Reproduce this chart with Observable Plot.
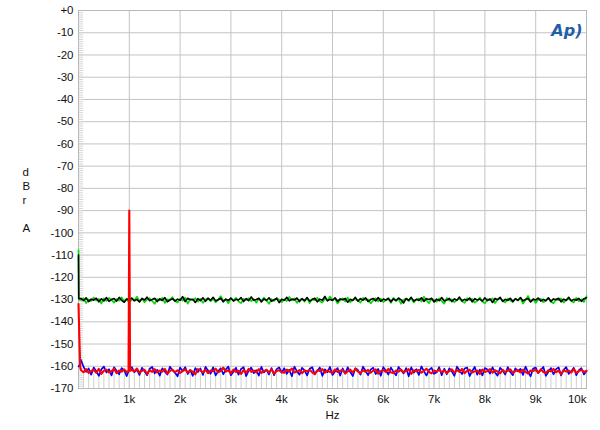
<!DOCTYPE html>
<html>
<head>
<meta charset="utf-8">
<script src="https://cdn.jsdelivr.net/npm/d3@7"></script>
<script src="https://cdn.jsdelivr.net/npm/@observablehq/plot@0.6"></script>
<style>
  body { margin: 0; background: #fff; }
</style>
</head>
<body>
<div id="chart"></div>
<script>
// Frequency bins (Hz) for the noise-floor traces, 50 Hz apart
const binHz = d3.range(1, 201).map(i => i * 50);

const blackBase = [
-129.6,-130.5,-129.2,-130.9,-129.8,-130.3,-129.4,-131.0,-129.7,-130.6,
-129.1,-130.8,-130.0,-129.5,-130.7,-129.0,-130.4,-131.2,-129.8,-130.1,
-129.3,-130.6,-129.9,-131.1,-129.5,-130.2,-128.9,-130.5,-130.0,-129.4,
-130.9,-129.7,-130.4,-129.1,-131.0,-130.2,-129.6,-130.7,-129.8,-130.3,
-128.7,-130.9,-129.4,-130.1,-129.9,-131.3,-129.6,-130.5,-129.2,-130.8,
-129.5,-130.3,-129.0,-130.6,-130.1,-129.4,-131.0,-129.8,-130.4,-129.3,
-130.7,-129.9,-130.2,-129.1,-130.9,-129.6,-130.5,-128.8,-130.3,-130.0,
-129.4,-131.1,-129.7,-130.4,-129.2,-130.8,-130.1,-129.5,-131.4,-129.9,
-130.3,-129.0,-130.6,-129.8,-130.2,-129.3,-130.9,-129.6,-130.5,-129.1,
-130.7,-130.0,-129.4,-131.0,-129.8,-130.3,-128.6,-130.6,-129.9,-130.4,
-129.2,-130.8,-129.7,-130.1,-129.5,-131.2,-129.9,-130.4,-129.0,-130.7,
-129.6,-130.3,-129.2,-130.9,-130.0,-129.5,-130.6,-129.1,-130.8,-129.8,
-130.2,-129.4,-131.0,-129.7,-130.5,-129.3,-130.1,-131.5,-129.6,-130.3,
-129.0,-130.7,-129.9,-130.4,-129.2,-130.8,-129.6,-130.0,-129.4,-131.1,
-129.8,-130.5,-129.1,-130.6,-130.2,-129.5,-130.9,-129.7,-130.3,-128.9,
-130.6,-129.9,-130.4,-129.3,-131.0,-129.6,-130.2,-129.8,-130.7,-129.2,
-130.5,-129.7,-131.3,-129.5,-130.1,-129.0,-130.8,-129.9,-130.4,-129.4,
-130.9,-129.6,-130.3,-129.1,-130.6,-130.0,-129.5,-131.1,-129.8,-130.2,
-129.3,-130.7,-129.9,-130.5,-129.2,-130.9,-129.7,-130.1,-129.4,-131.0,
-129.8,-130.4,-129.0,-130.6,-129.9,-130.3,-129.5,-130.8,-129.6,-129.2
];
const greenBase = [
-130.2,-129.4,-131.6,-129.9,-130.7,-129.1,-130.4,-129.7,-131.8,-129.5,
-130.6,-129.3,-130.1,-131.4,-129.8,-130.5,-129.0,-130.9,-129.6,-131.7,
-129.8,-130.3,-128.7,-130.8,-129.5,-131.2,-130.0,-129.4,-130.6,-131.9,
-129.7,-130.4,-129.2,-131.5,-129.9,-130.1,-128.9,-130.7,-131.3,-129.6,
-130.5,-129.1,-131.8,-129.8,-130.3,-129.4,-130.9,-129.7,-131.5,-130.0,
-129.3,-130.8,-129.6,-131.2,-130.1,-128.5,-130.6,-129.9,-131.7,-129.5,
-130.4,-129.2,-130.9,-131.6,-129.7,-130.2,-129.4,-130.7,-129.8,-131.4,
-129.6,-130.5,-129.1,-130.3,-131.9,-129.8,-130.6,-129.3,-130.1,-131.2,
-129.9,-130.7,-128.8,-130.4,-129.5,-131.5,-130.2,-129.7,-130.9,-129.4,
-131.6,-129.8,-130.3,-129.2,-130.8,-131.3,-129.6,-130.5,-128.6,-130.1,
-129.7,-131.8,-130.4,-129.5,-130.9,-129.1,-131.2,-130.0,-129.8,-130.6,
-131.4,-129.3,-130.2,-129.9,-131.7,-130.5,-129.4,-130.8,-129.6,-131.1,
-130.3,-129.7,-131.5,-129.2,-130.6,-129.8,-131.9,-130.1,-129.5,-130.7,
-129.4,-131.3,-130.0,-129.6,-130.9,-128.7,-130.4,-131.6,-129.8,-130.2,
-131.0,-129.5,-130.7,-131.8,-129.3,-130.5,-129.9,-131.2,-130.1,-129.6,
-130.8,-131.5,-129.4,-130.2,-129.7,-131.4,-130.6,-129.1,-130.9,-131.7,
-129.8,-130.3,-129.5,-131.6,-130.0,-129.2,-130.7,-131.3,-129.6,-130.4,
-131.1,-129.7,-130.5,-129.3,-131.8,-130.2,-128.4,-130.8,-129.9,-131.5,
-130.1,-129.6,-131.2,-130.4,-129.4,-130.9,-131.7,-129.8,-130.3,-129.5,
-131.4,-130.0,-129.7,-130.6,-131.3,-129.2,-130.8,-129.9,-131.1,-128.5
];
const redBase = [
-161.8,-162.7,-161.3,-163.0,-162.1,-161.6,-162.9,-161.2,-163.4,-162.0,
-161.5,-162.8,-162.2,-161.1,-163.1,-161.9,-162.4,-161.4,-162.6,-163.3,
-161.7,-162.3,-161.0,-162.9,-162.0,-161.6,-163.5,-161.8,-162.5,-161.3,
-162.8,-161.9,-162.4,-161.2,-163.2,-162.1,-161.5,-162.7,-161.8,-163.0,
-162.2,-161.4,-162.9,-161.7,-162.5,-163.6,-161.3,-162.0,-162.8,-161.6,
-163.1,-161.9,-162.3,-161.1,-162.7,-162.2,-160.6,-162.4,-161.8,-163.2,
-161.5,-162.6,-162.0,-163.4,-161.7,-162.9,-161.2,-162.5,-161.9,-162.8,
-161.3,-163.0,-162.2,-161.6,-162.7,-161.4,-163.3,-162.1,-161.8,-162.6,
-162.9,-161.5,-162.3,-161.0,-162.8,-162.4,-161.7,-163.1,-161.9,-162.2,
-161.6,-162.7,-163.5,-161.8,-162.1,-161.3,-162.9,-161.9,-162.5,-163.0,
-161.4,-162.6,-162.0,-161.7,-163.2,-162.3,-161.5,-162.8,-161.1,-162.4,
-163.1,-161.8,-162.5,-161.6,-162.9,-162.0,-161.4,-163.3,-162.2,-161.7,
-162.6,-161.2,-162.8,-163.0,-161.9,-162.4,-161.5,-162.7,-162.1,-161.3,
-163.4,-161.8,-162.3,-161.6,-162.9,-162.0,-161.1,-162.6,-163.2,-161.9,
-162.4,-161.5,-162.7,-161.8,-163.0,-162.2,-161.4,-162.9,-161.7,-162.5,
-161.2,-163.1,-162.0,-161.6,-162.8,-162.3,-161.9,-163.4,-161.5,-162.6,
-162.1,-161.3,-162.9,-161.8,-162.4,-163.2,-161.6,-162.7,-162.0,-161.4,
-163.0,-162.2,-161.7,-162.8,-161.5,-162.5,-163.3,-161.9,-162.1,-161.6,
-162.9,-161.4,-162.6,-163.1,-161.8,-162.3,-161.2,-162.7,-162.0,-163.5,
-161.7,-162.4,-161.9,-162.8,-161.3,-163.0,-162.2,-161.6,-162.6,-162.1
];
const blueBase = [
-157.2,-160.3,-162.5,-161.0,-163.8,-160.6,-162.2,-164.3,-161.4,-160.2,
-162.8,-161.3,-164.1,-160.5,-162.0,-163.6,-160.8,-161.9,-164.4,-161.2,
-160.4,-162.7,-161.5,-163.9,-160.7,-162.3,-164.0,-161.1,-160.3,-163.2,
-161.6,-164.2,-160.9,-162.4,-163.7,-160.2,-161.8,-162.9,-164.5,-160.6,
-162.1,-160.4,-163.5,-161.7,-164.3,-160.8,-162.6,-161.0,-163.9,-160.3,
-161.9,-163.3,-160.5,-164.1,-162.2,-160.9,-163.6,-161.4,-160.2,-164.0,
-162.5,-160.7,-163.8,-161.2,-160.4,-164.4,-162.0,-160.6,-163.1,-161.7,
-164.2,-160.3,-162.8,-161.5,-163.7,-160.8,-164.0,-161.3,-160.5,-162.9,
-160.9,-163.4,-161.6,-164.5,-160.2,-162.3,-163.8,-160.7,-161.8,-164.1,
-161.1,-160.4,-163.6,-162.1,-160.6,-164.3,-161.4,-162.7,-160.3,-163.9,
-162.4,-160.8,-164.2,-161.0,-163.3,-160.5,-162.6,-164.4,-160.9,-161.7,
-163.8,-160.2,-162.0,-164.0,-161.5,-160.7,-163.5,-161.2,-164.3,-160.4,
-161.9,-163.7,-160.6,-162.5,-164.1,-160.3,-161.8,-163.2,-160.8,-164.5,
-160.5,-162.9,-161.3,-163.9,-160.1,-162.2,-164.2,-161.6,-160.7,-163.4,
-162.7,-160.4,-164.0,-161.1,-163.6,-160.9,-162.4,-164.3,-160.2,-161.8,
-163.5,-161.0,-160.6,-164.4,-162.1,-160.3,-163.8,-161.5,-164.1,-160.8,
-161.4,-163.3,-160.5,-162.8,-164.2,-160.7,-161.9,-163.7,-160.4,-162.6,
-164.0,-160.9,-162.3,-161.2,-163.9,-160.2,-162.7,-164.5,-161.0,-160.6,
-163.1,-161.7,-160.3,-164.3,-162.5,-160.8,-163.6,-161.3,-160.5,-164.1,
-161.6,-160.4,-163.4,-162.2,-160.7,-164.0,-161.8,-160.9,-163.7,-162.0
];

// Special points [Hz, dB]: DC rise and the 1 kHz tone
const blackFeatures = [[0, -110], [5, -129.5]];
const greenFeatures = [[0, -107.8], [5, -130]];
const redFeatures   = [[0, -132], [20, -150], [35, -160.5], [985, -162.3], [1000, -90], [1015, -162]];
const blueFeatures  = [[0, -160], [25, -159.5]];

const yTicks = d3.range(-170, 1, 10);
const xTicks = [1000, 2000, 3000, 4000, 5000, 6000, 7000, 8000, 9000];
const xTickLabels = ["1k", "2k", "3k", "4k", "5k", "6k", "7k", "8k", "9k"];
const minorY = d3.range(-170, 1, 1);
const minorX = d3.range(100, 10000, 100);

function series(base, features, name) {
  const fx = new Set(features.map(d => d[0]));
  const pts = base.map((v, i) => ({hz: binHz[i], db: v})).filter(d => !fx.has(d.hz));
  features.forEach(([hz, db]) => pts.push({hz, db}));
  pts.sort((a, b) => a.hz - b.hz);
  pts.forEach(d => d.name = name);
  return pts;
}
const green = series(greenBase, greenFeatures, "green");
const black = series(blackBase, blackFeatures, "black");
const blue = series(blueBase, blueFeatures, "blue");
const red = series(redBase, redFeatures, "red");

const chart = Plot.plot({
  width: 600,
  height: 430,
  marginTop: 10,
  marginBottom: 42,
  marginLeft: 78,
  marginRight: 14,
  style: {fontFamily: "'Liberation Sans', Arial, sans-serif", fontSize: "11.5px", color: "#111", background: "#fff"},
  x: {domain: [0, 10000]},
  y: {domain: [-170, 0]},
  marks: [
    Plot.gridY(yTicks, {stroke: "#c4c4c4", strokeOpacity: 1}),
    Plot.gridX(xTicks, {stroke: "#c4c4c4", strokeOpacity: 1}),
    Plot.ruleY(minorY, {x1: 0, x2: 100, stroke: "#d4d4d4"}),
    Plot.ruleX(minorX, {y1: -170, y2: -163.5, stroke: "#d0d0d0"}),
    Plot.frame({stroke: "#b8b8b8"}),
    Plot.axisY(yTicks, {tickSize: 0, tickPadding: 5, tickFormat: d => d === 0 ? "+0" : `${d}`, label: null, fill: "#111"}),
    Plot.axisX(xTicks, {tickSize: 0, tickPadding: 6, tickFormat: d => xTickLabels[xTicks.indexOf(d)], label: null, fill: "#111"}),
    Plot.axisX([10000], {tickSize: 0, tickPadding: 6, tickFormat: () => "10k", textAnchor: "end", label: null, fill: "#111"}),
    Plot.text(["Hz"], {frameAnchor: "bottom", dy: 30, fill: "#111"}),
    Plot.text(["d\nB\nr\n\nA"], {frameAnchor: "left", dx: -56, lineHeight: 1.2, fill: "#111"}),
    Plot.lineY(green, {x: "hz", y: "db", stroke: "#00e000", strokeWidth: 1.7}),
    Plot.lineY(black, {x: "hz", y: "db", stroke: "#000000", strokeWidth: 1.6}),
    Plot.lineY(blue, {x: "hz", y: "db", stroke: "#0000ff", strokeWidth: 1.7}),
    Plot.lineY(red, {x: "hz", y: "db", stroke: "#ff0000", strokeWidth: 2.1}),
    Plot.text(["Ap)"], {frameAnchor: "top-right", dx: -4, dy: 14, fill: "#1f5fa8", fontStyle: "italic", fontWeight: "bold", fontSize: 16, fontFamily: "'DejaVu Sans', sans-serif"})
  ]
});
document.getElementById("chart").appendChild(chart);
</script>
</body>
</html>
